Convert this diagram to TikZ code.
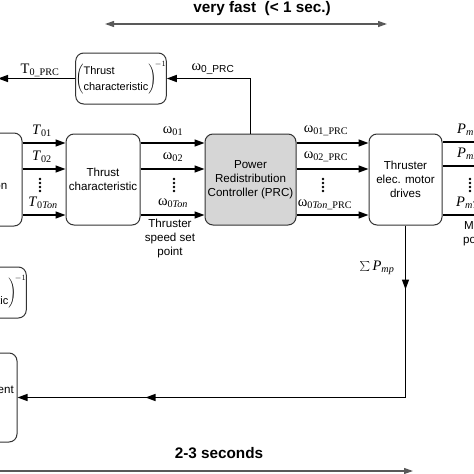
\documentclass[tikz,border=0pt]{standalone}
\usepackage{fontspec}
\setmainfont{Liberation Serif}
\setsansfont{Liberation Sans}
\usetikzlibrary{arrows.meta,decorations.markings}
\newcommand\sbs[1]{\textsubscript{#1}}
\newcommand\invtc{$\left(\vcenter{\hbox{\fontsize{11}{16}\selectfont\begin{tabular}{@{}l@{}}Thrust\\characteristic\end{tabular}}}\right)^{\!-1}$}
\begin{document}
\begin{tikzpicture}[x=1pt,y=-1pt,
  box/.style={draw=black!80,line width=1pt,rounded corners=8pt,inner sep=0pt,
    font=\sffamily\fontsize{11.6}{14}\selectfont,align=center},
  btxt/.style={font=\sffamily\fontsize{11.6}{14}\selectfont,align=center,inner sep=0pt},
  arr/.style={line width=1.4pt,-{Triangle[length=10pt,width=7pt]}},
  garr/.style={draw=black!65,line width=1.2pt},
  lab/.style={font=\fontsize{14.5}{16}\selectfont,inner sep=0pt},
  big/.style={font=\sffamily\bfseries\fontsize{15.3}{18}\selectfont,inner sep=0pt},
  dotc/.style={fill=black,draw=none,circle,inner sep=0pt,minimum size=2.8pt}]
\useasboundingbox (0,0) rectangle (474,474);
\clip (0,0) rectangle (474,474);

% time scale arrows
\coordinate (fa) at (105,24);
\coordinate (fb) at (387,24);
\draw[garr,{Triangle[length=9pt,width=6pt]}-{Triangle[length=9pt,width=6pt]}] (fa) -- (fb);
\node[big] (vf) at (262,9) {very fast~~(<~1 sec.)};
\coordinate (sa) at (-20,471);
\coordinate (sb) at (413,471);
\draw[garr,-{Triangle[length=9pt,width=6pt]}] (sa) -- (sb);
\node[big] (ts) at (219,453) {2-3 seconds};

% boxes
\node[box,minimum width=77,minimum height=93] (ta) at (-16.5,179.5) {};
\node[btxt,anchor=east] (tat) at (7.5,185) {Thrust allocation};
\node[box,minimum width=74,minimum height=91] (tc) at (103,179.5) {Thrust\\characteristic};
\node[box,fill=black!16,minimum width=91,minimum height=91] (prc) at (250.5,179.5) {Power\\Redistribution\\Controller (PRC)};
\node[box,minimum width=73,minimum height=91] (drv) at (405.5,179.5) {Thruster\\elec. motor\\drives};
\node[box,minimum width=88,minimum height=51] (inv) at (121,78.5) {\invtc};
\node[box,minimum width=88,minimum height=51] (inv2) at (-19,292.5) {\invtc};
\node[box,minimum width=97,minimum height=89] (pm) at (-31.5,397.5) {};
\node[btxt,anchor=east] (pmt) at (14,391) {Power management};

% rows
\coordinate (r1) at (0,143);
\coordinate (r2) at (0,169);
\coordinate (r3) at (0,215);
\foreach \r in {r1,r2,r3}{
  \draw[arr] (ta.east |- \r) -- (tc.west |- \r);
  \draw[arr] (tc.east |- \r) -- (prc.west |- \r);
  \draw[arr] (prc.east |- \r) -- (drv.west |- \r);
}
\coordinate (q1) at (484,142);
\coordinate (q2) at (484,166);
\coordinate (q3) at (484,215);
\foreach \q in {q1,q2,q3}{
  \draw[arr] (drv.east |- \q) -- (\q);
}

% labels
\node[lab] (t1) at (42,131) {\textit{T}\sbs{01}};
\node[lab] (t2) at (42,157) {\textit{T}\sbs{02}};
\node[lab] (t3) at (43,203) {\textit{T}\sbs{0\textit{Ton}}};
\node[lab] (w1) at (173,131) {ω\sbs{01}};
\node[lab] (w2) at (173,157) {ω\sbs{02}};
\node[lab] (w3) at (173,203) {ω\sbs{0\textit{Ton}}};
\node[lab] (p1) at (326,131) {ω\sbs{01\_PRC}};
\node[lab] (p2) at (326,157) {ω\sbs{02\_PRC}};
\node[lab] (p3) at (325,205) {ω\sbs{0\textit{Ton}\_PRC}};
\node[lab,anchor=west] (m1) at (457,130) {\textit{P}\sbs{\textit{m}1}};
\node[lab,anchor=west] (m2) at (457,154) {\textit{P}\sbs{\textit{m}2}};
\node[lab,anchor=west] (m3) at (456,203) {\textit{P}\sbs{\textit{mTon}}};
\node[btxt,anchor=north west] (mp) at (463,221) {Motor\\power};
\node[btxt] (ssp) at (170,238) {Thruster\\speed set\\point};
\foreach \x/\n in {40/a,174/b,323/c,470/d}{
  \foreach \y [count=\i] in {179,183,187,191}{
    \node[dotc] (d\n\i) at (\x,\y) {};
  }
}

% feedback to inverse characteristic
\coordinate (tout) at (-2,78.5);
\draw[arr] (prc.north) |- (inv.east);
\draw[arr] (inv.west) -- (tout);
\node[lab] (w0) at (213,69) {ω\sbs{\sffamily 0\_PRC}};
\node[lab] (t0) at (40,70) {T\sbs{0\_PRC}};

% power sum to management
\draw[line width=1.4pt,-{Triangle[length=10pt,width=7pt]},
  postaction={decorate,decoration={markings,
    mark=at position 64pt with {\arrow{Triangle[length=10pt,width=7pt]}},
    mark=at position 432pt with {\arrow{Triangle[length=10pt,width=7pt]}}}}]
  (drv.south) |- (pm.east);
\node[lab] (sp) at (377,268) {$\sum$\,\textit{P}\sbs{\textit{mp}}};
\end{tikzpicture}
\end{document}
